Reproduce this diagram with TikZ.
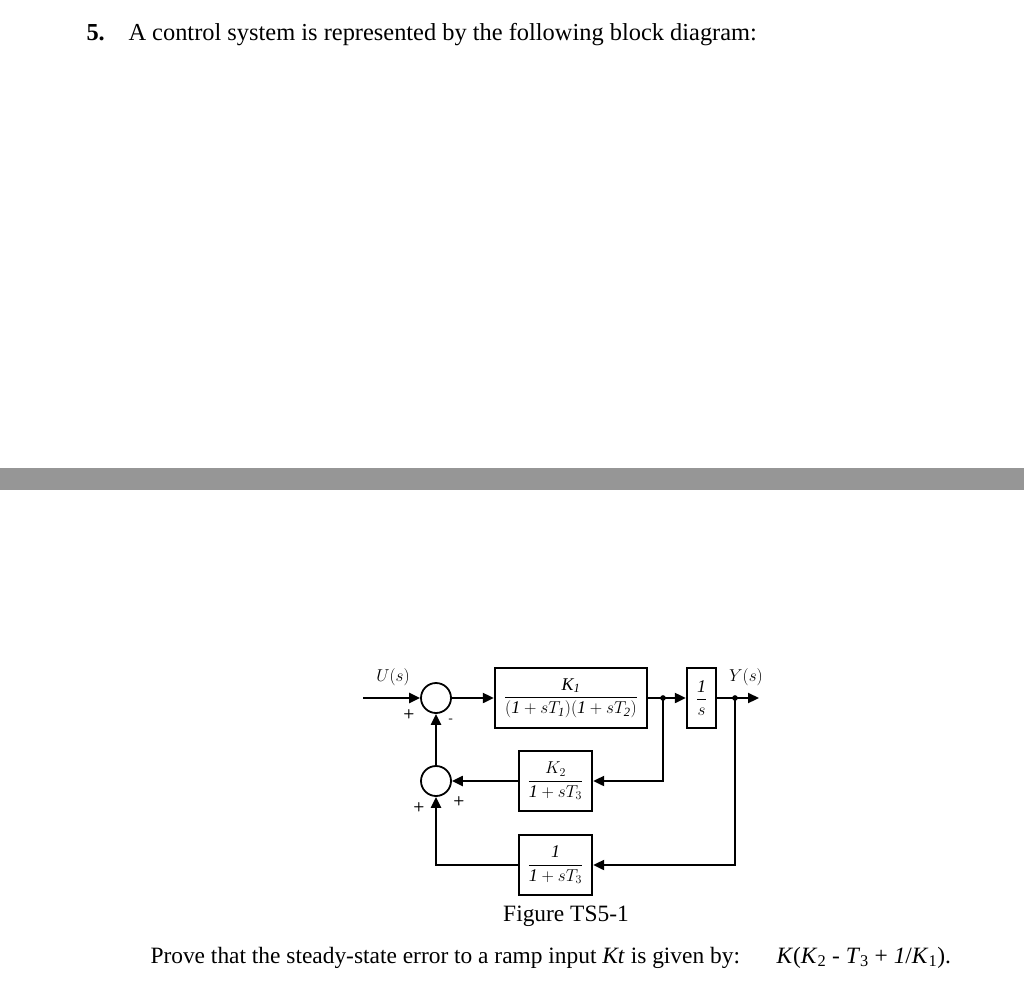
\documentclass[tikz,border=0pt]{standalone}
\usepackage{amsmath}
\usepackage{fontspec}
\setmainfont{Liberation Serif}
\usetikzlibrary{arrows.meta}
\begin{document}
\begin{tikzpicture}[x=1bp,y=-1bp,
  blk/.style={draw,line width=2.4bp,minimum height=60bp,inner sep=0pt,font=\fontsize{18}{20}\selectfont},
  sumj/.style={draw,circle,line width=1.8bp,minimum size=30bp,inner sep=0pt},
  sig/.style={line width=2.2bp,-{Triangle[length=11bp,width=10bp]}},
  dot/.style={circle,fill,inner sep=2bp},
  sg/.style={font=\sffamily\bfseries\fontsize{13}{14}\selectfont}]
\useasboundingbox (0,0) rectangle (1024,986);
\fill[gray!50!black!55] (0,468) rectangle (1024,490);
\node[anchor=base west,font=\fontsize{24.5}{28}\selectfont\bfseries] (num) at (83,40) {5.};
\node[anchor=base west,font=\fontsize{24.5}{28}\selectfont] (title) at (125,40) {A control system is represented by the following block diagram:};
% diagram
\node[sumj] (s1) at (436,698) {};
\node[sumj] (s2) at (436,781) {};
\node[blk,minimum width=152bp] (g1) at (571,698) {$\dfrac{\mathit{K_1}}{(\mathit{1}+sT_{\mathit{1}})(\mathit{1}+sT_{\mathit{2}})}$};
\node[blk,minimum width=29bp] (g2) at (701.5,698) {$\dfrac{\mathit{1}}{s}$};
\node[blk,minimum width=73bp] (h1) at (555.5,781) {$\dfrac{K_2}{\mathit{1}+sT_3}$};
\node[blk,minimum width=73bp] (h2) at (555.5,865) {$\dfrac{\mathit{1}}{\mathit{1}+sT_3}$};
\coordinate (in) at (363,698);
\coordinate (b1) at (663,698);
\coordinate (b2) at (735,698);
\coordinate (out) at (759,698);
\node[dot] at (b1) {};
\node[dot] at (b2) {};
\draw[sig] (in) -- (s1);
\draw[sig] (s1) -- (g1);
\draw[sig] (g1) -- (g2);
\draw[sig] (g2) -- (out);
\draw[sig] (b1) |- (h1);
\draw[sig] (b2) |- (h2);
\draw[sig] (h1) -- (s2);
\draw[sig] (h2) -| (s2);
\draw[sig] (s2) -- (s1);
\node[font=\fontsize{19}{21}\selectfont] (u) at (393,677) {$U(s)$};
\node[font=\fontsize{19}{21}\selectfont] (y) at (746,677) {$Y(s)$};
\node[sg] at (409,714) {+};
\node[sg] at (451,721) {-};
\node[sg] at (419,807) {+};
\node[sg] at (459,801) {+};
\node[anchor=base,font=\fontsize{23.5}{27}\selectfont] (cap) at (566,921) {Figure TS5-1};
\node[anchor=base west,font=\fontsize{23.5}{27}\selectfont] (txt) at (147,963) {Prove that the steady-state error to a ramp input \textit{Kt} is given by:};
\node[anchor=base west,font=\fontsize{23.5}{27}\selectfont] (res) at (773,963) {\textit{K}(\textit{K}\textsubscript{2} - \textit{T}\textsubscript{3} + \textit{1}/\textit{K}\textsubscript{1}).};
\end{tikzpicture}
\end{document}
